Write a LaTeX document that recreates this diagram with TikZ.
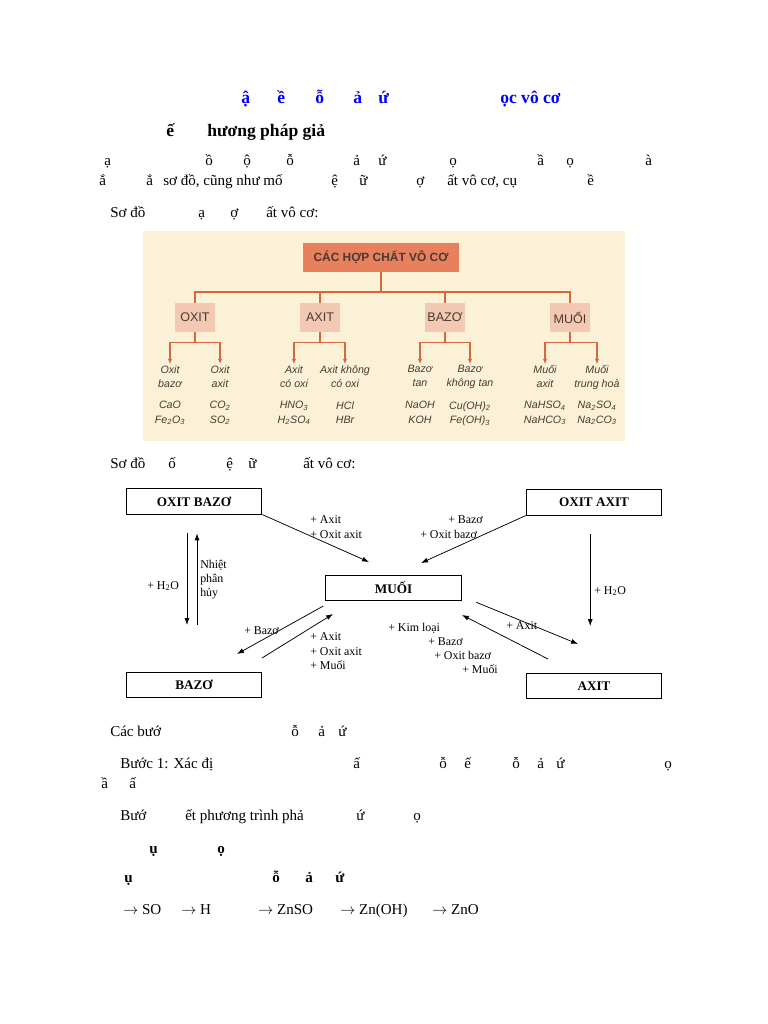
\documentclass[tikz,border=0pt]{standalone}
\usepackage{fontspec}
\setmainfont{Liberation Serif}
\newfontfamily\arialf{Liberation Sans}
\usetikzlibrary{arrows.meta}
\definecolor{bgcream}{HTML}{FBF1D6}
\definecolor{topbox}{HTML}{E8805E}
\definecolor{catbox}{HTML}{F3C9B3}
\definecolor{treeline}{HTML}{D9663F}
\definecolor{ink}{HTML}{4A3A30}
\begin{document}
\begin{tikzpicture}[x=0.797pt,y=-0.797pt,
  txt/.style={anchor=base west,inner sep=0pt,font=\fontsize{12}{14}\selectfont},
  btxt/.style={txt,font=\fontsize{12}{14}\selectfont\bfseries},
  hdr/.style={txt,font=\fontsize{14}{16}\selectfont\bfseries},
  ttl/.style={hdr,text=blue},
  topnode/.style={fill=topbox,text=ink,font=\arialf\fontsize{9.5}{11}\selectfont\bfseries,minimum width=125pt,minimum height=23pt},
  catnode/.style={fill=catbox,text=ink,font=\arialf\fontsize{10}{12}\selectfont,minimum width=32pt,minimum height=23pt,inner sep=2pt},
  kind/.style={text=ink,font=\arialf\itshape\fontsize{8.5}{11.2}\selectfont,align=center,inner sep=1pt,anchor=north},
  tree/.style={treeline,line width=1pt},
  chem/.style={draw,line width=0.8pt,minimum width=108pt,minimum height=20pt,font=\fontsize{10.5}{12}\selectfont\bfseries},
  lbl/.style={anchor=base west,inner sep=0pt,font=\fontsize{9.5}{11}\selectfont},
  arr/.style={line width=0.6pt,-{Latex[length=5.5pt,width=4pt]}}]
\useasboundingbox (0,0) rectangle (768,1024);
\fill[white] (0,0) rectangle (768,1024);

% heading lines
\foreach \n/\x/\s in {a/241/ậ,b/277/ề,c/315/ỗ,d/353/ả,e/378/ứ,f/500/ọc vô cơ}
  \node[ttl] (ti\n) at (\x,103) {\s};
\node[hdr] (h2a) at (166,136) {ế};
\node[hdr] (h2b) at (207,136) {hương pháp giả};
\foreach \n/\x/\s in {a/104/ạ,b/205/ồ,c/243/ộ,d/286/ỗ,e/353/ả,f/378/ứ,g/449/ọ,h/537/ầ,i/566/ọ,j/645/à}
  \node[txt] (l3\n) at (\x,165) {\s};
\foreach \n/\x/\s in {a/99/ắ,b/146/ắ,c/163/{sơ đồ, cũng như mố},d/331/ệ,e/359/ữ,f/416/ợ,g/447/{ất vô cơ, cụ},h/587/ề}
  \node[txt] (l4\n) at (\x,185) {\s};
\foreach \n/\x/\s in {a/110/Sơ đồ,b/198/ạ,c/230/ợ,d/266/ất vô cơ:}
  \node[txt] (l5\n) at (\x,217) {\s};

% so do phan loai
\fill[bgcream] (143,231) rectangle (625,441);
\node[topnode] (hc) at (381,257.5) {CÁC HỢP CHẤT VÔ CƠ};
\coordinate (bar) at (381,292);
\foreach \n/\x/\s in {ox/195/OXIT,ac/320/AXIT,bz/445/BAZƠ,mu/570/MUỐI}
  \node[catnode] (c\n) at (\x,317.5) {\s};
\draw[tree] (hc.south) -- (bar);
\draw[tree] (cox.north) -- (cox.north |- bar) -- (cmu.north |- bar) -- (cmu.north);
\draw[tree] (cac.north) -- (cac.north |- bar);
\draw[tree] (cbz.north) -- (cbz.north |- bar);
\foreach \c/\n/\x/\s/\f in {ox/a/170/{Oxit\\bazơ}/{CaO\\Fe\textsubscript{2}O\textsubscript{3}},
    ox/b/220/{Oxit\\axit}/{CO\textsubscript{2}\\SO\textsubscript{2}},
    ac/a/294/{Axit\\có oxi}/{HNO\textsubscript{3}\\H\textsubscript{2}SO\textsubscript{4}},
    ac/b/345/{Axit không\\có oxi}/{HCl\\HBr},
    bz/a/420/{Bazơ\\tan}/{NaOH\\KOH},
    bz/b/470/{Bazơ\\không tan}/{Cu(OH)\textsubscript{2}\\Fe(OH)\textsubscript{3}},
    mu/a/545/{Muối\\axit}/{NaHSO\textsubscript{4}\\NaHCO\textsubscript{3}},
    mu/b/597/{Muối\\trung hoà}/{Na\textsubscript{2}SO\textsubscript{4}\\Na\textsubscript{2}CO\textsubscript{3}}}
{
  \node[kind] (k\c\n) at (\x,364) {\s};
  \node[kind] (f\c\n) at (\x,400) {\f};
  \draw[tree,-{Latex[length=4pt,width=3.5pt]}] (c\c.south) -- ++(0,10) -| (k\c\n.north);
}

\foreach \n/\x/\s in {a/110/Sơ đồ,b/168/ố,c/226/ệ,d/248/ữ,e/303/ất vô cơ:}
  \node[txt] (l6\n) at (\x,468) {\s};

% so do quan he
\node[chem] (oxbz) at (194,501.5) {OXIT BAZƠ};
\node[chem] (oxax) at (594,502.5) {OXIT AXIT};
\node[chem] (muoi) at (393.5,588) {MUỐI};
\node[chem] (bazo) at (194,685) {BAZƠ};
\node[chem] (axit) at (594,686) {AXIT};

\coordinate (m1) at (369,562);
\coordinate (m2) at (421,563);
\coordinate (m3) at (333,614);
\coordinate (m4) at (462,615);
\coordinate (b1) at (237,654);
\coordinate (b2) at (262,658);
\coordinate (a1) at (578,644);
\coordinate (a2) at (548,659);

\draw[arr] (oxbz.south east) -- (m1);
\draw[arr] (oxax.south west) -- (m2);
\draw[arr] ([xshift=-5.6pt,yshift=-15pt]oxbz.south) -- ([xshift=-5.6pt,yshift=-88pt]oxbz.south);
\draw[arr] ([xshift=2.4pt,yshift=-88pt]oxbz.south) -- ([xshift=2.4pt,yshift=-15pt]oxbz.south);
\draw[arr] ([xshift=-3pt,yshift=-15pt]oxax.south) -- ([xshift=-3pt,yshift=-88pt]oxax.south);
\draw[arr] ([xshift=-56pt,yshift=-4pt]muoi.south) -- (b1);
\draw[arr] (b2) -- (m3);
\draw[arr] ([xshift=66pt,yshift=-1pt]muoi.south) -- (a1);
\draw[arr] (a2) -- (m4);

\node[lbl] (la1) at (310,523) {+ Axit};
\node[lbl] (la2) at (310,538) {+ Oxit axit};
\node[lbl] (lb1) at (448,523) {+ Bazơ};
\node[lbl] (lb2) at (420,538) {+ Oxit bazơ};
\node[lbl] (lh1) at (147,589) {+ H\textsubscript{2}O};
\node[lbl] (ln1) at (200,568) {Nhiệt};
\node[lbl] (ln2) at (200,582) {phân};
\node[lbl] (ln3) at (200,596) {hủy};
\node[lbl] (lh2) at (594,594) {+ H\textsubscript{2}O};
\node[lbl] (lc1) at (244,634) {+ Bazơ};
\node[lbl] (lc2) at (310,640) {+ Axit};
\node[lbl] (lc3) at (310,655) {+ Oxit axit};
\node[lbl] (lc4) at (310,669) {+ Muối};
\node[lbl] (ld1) at (388,631) {+ Kim loại};
\node[lbl] (ld2) at (428,645) {+ Bazơ};
\node[lbl] (ld3) at (434,659) {+ Oxit bazơ};
\node[lbl] (ld4) at (462,673) {+ Muối};
\node[lbl] (le1) at (506,629) {+ Axit};

% cac buoc
\foreach \n/\x/\s in {a/110/Các bướ,b/291/ỗ,c/318/ả,d/338/ứ}
  \node[txt] (s1\n) at (\x,736) {\s};
\foreach \n/\x/\s in {a/120/Bước 1: Xác đị,b/353/ấ,c/439/ỗ,d/464/ế,e/512/ỗ,f/537/ả,g/556/ứ,h/664/ọ}
  \node[txt] (s2\n) at (\x,768) {\s};
\node[txt] (s3a) at (101,788) {ầ};
\node[txt] (s3b) at (129,788) {ấ};
\foreach \n/\x/\s in {a/120/Bướ,b/185/ết phương trình phả,c/356/ứ,d/413/ọ}
  \node[txt] (s4\n) at (\x,820) {\s};
\node[btxt] (s5a) at (149,853) {ụ};
\node[btxt] (s5b) at (217,853) {ọ};
\foreach \n/\x/\s in {a/124/ụ,b/272/ỗ,c/305/ả,d/335/ứ}
  \node[btxt] (s6\n) at (\x,882) {\s};
\foreach \n/\x/\s in {a/123/SO,b/181/H,c/258/ZnSO,d/340/Zn(OH),e/432/ZnO}
  \node[txt] (s7\n) at (\x,914) {$\rightarrow$ \s};
\end{tikzpicture}
\end{document}
